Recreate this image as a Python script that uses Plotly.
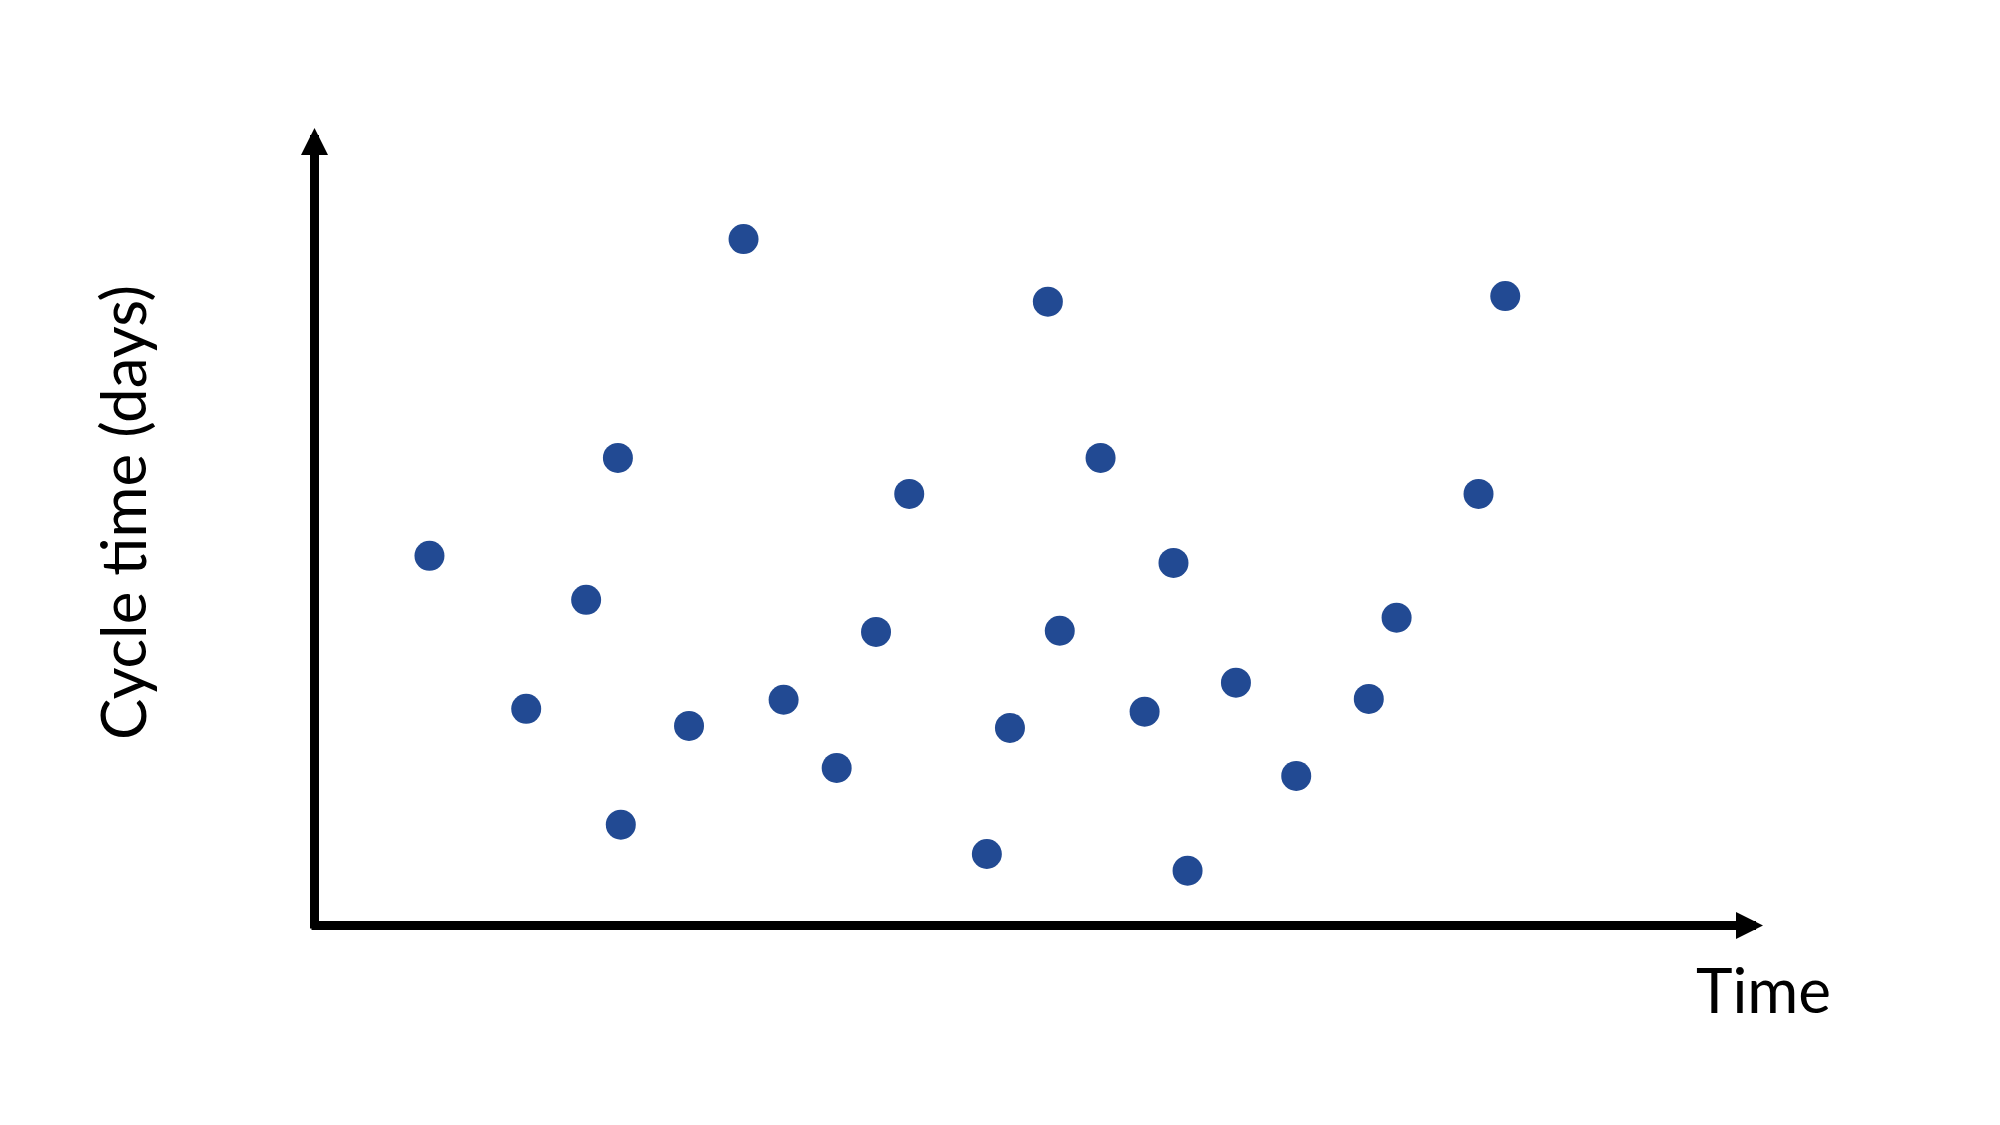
import plotly.graph_objects as go

# Data (time units, cycle time in days)
time_vals = [3.06, 5.74, 7.40, 8.28, 8.36, 10.25, 11.76, 12.87, 14.34, 15.43,
             16.35, 18.50, 19.14, 20.19, 20.52, 21.65, 22.87, 23.67, 24.06, 25.40,
             27.07, 29.08, 29.85, 32.12, 32.86]
cycle_days = [9.21, 5.35, 8.10, 11.68, 2.43, 4.92, 17.20, 5.58, 3.86, 7.29,
              10.77, 1.69, 4.87, 15.62, 7.32, 11.68, 5.28, 9.03, 1.27, 6.01,
              3.66, 5.60, 7.65, 10.77, 15.76]

x_title = "Time"
y_title = "Cycle time (days)"
x_max = 40
y_max = 20

DOT = "#224A93"
FONT = "Lato"

fig = go.Figure()
fig.add_trace(go.Scatter(
    x=time_vals, y=cycle_days, mode="markers",
    marker=dict(size=30, color=DOT, line=dict(width=0)),
    showlegend=False, hoverinfo="skip",
))

L, R, T, B = 319, 237, 128, 204
plot_w = 2000 - L - R
plot_h = 1125 - T - B

fig.update_layout(
    width=2000, height=1125,
    margin=dict(l=L, r=R, t=T, b=B, pad=0),
    paper_bgcolor="white", plot_bgcolor="white",
    xaxis=dict(range=[0, x_max], showgrid=False, zeroline=False,
               showticklabels=False, ticks="", showline=False, fixedrange=True),
    yaxis=dict(range=[0, y_max], showgrid=False, zeroline=False,
               showticklabels=False, ticks="", showline=False, fixedrange=True),
    font=dict(family=FONT, color="black"),
    hovermode=False,
    annotations=[
        # x axis arrow
        dict(x=1, y=0, xref="paper", yref="paper", text="",
             showarrow=True, axref="pixel", ayref="pixel",
             ax=-(plot_w + 9), ay=0, yshift=-4.5,
             arrowhead=2, arrowwidth=9, arrowsize=0.6, arrowcolor="black",
             standoff=0, startstandoff=0),
        # y axis arrow
        dict(x=0, y=1, xref="paper", yref="paper", text="",
             showarrow=True, axref="pixel", ayref="pixel",
             ax=0, ay=plot_h + 9, xshift=-4.5,
             arrowhead=2, arrowwidth=9, arrowsize=0.6, arrowcolor="black",
             standoff=0, startstandoff=0),
        dict(x=-0.1337, y=0.5145, xref="paper", yref="paper", text=y_title,
             showarrow=False, textangle=-90, xanchor="center", yanchor="middle",
             xshift=-4, yshift=1,
             font=dict(size=62, family=FONT, color="black")),
        dict(x=1.0, y=-0.0858, xref="paper", yref="paper", text=x_title,
             showarrow=False, xanchor="center", yanchor="middle",
             font=dict(size=62, family=FONT, color="black")),
    ],
)

fig.write_html("out.html",
               config={"displayModeBar": False, "staticPlot": True},
               post_script="document.body.style.margin='0px';document.body.style.padding='0px';")
